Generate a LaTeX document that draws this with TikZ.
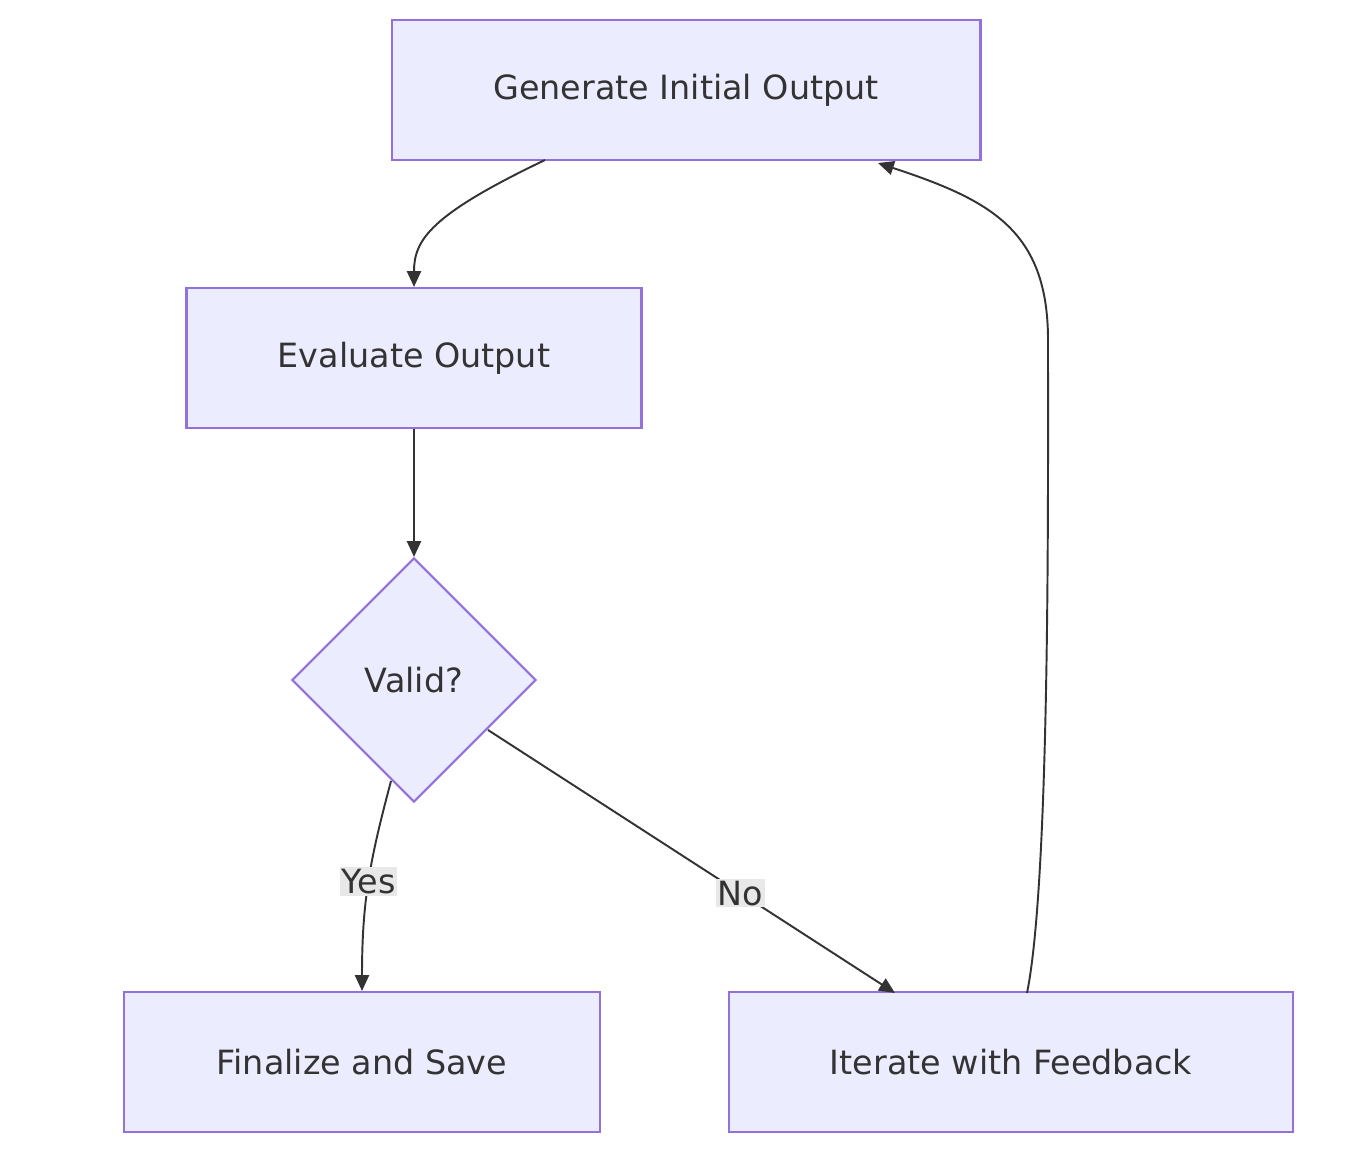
\documentclass[tikz,border=0pt]{standalone}
\usepackage{fontspec}
\setmainfont{DejaVu Sans}
\usetikzlibrary{shapes.geometric,arrows.meta}
\definecolor{boxfill}{HTML}{ECECFF}
\definecolor{boxline}{HTML}{9370DB}
\definecolor{ink}{HTML}{333333}
\definecolor{lblbg}{HTML}{E8E8E8}
\tikzstyle{stage}=[draw=boxline, fill=boxfill, line width=1.2pt, minimum height=2.8cm,
    text=ink, font=\fontsize{19}{22}\selectfont]
\tikzstyle{check}=[diamond, draw=boxline, fill=boxfill, line width=1.2pt, minimum width=4.88cm,
    minimum height=4.88cm, inner sep=0pt, text=ink, font=\fontsize{19}{22}\selectfont]
\tikzstyle{lbl}=[fill=lblbg, text=ink, inner sep=1pt, font=\fontsize{19}{22}\selectfont]
\begin{document}
\begin{tikzpicture}[x=0.02cm, y=-0.02cm, line width=1.1pt, draw=ink, >={Triangle[length=9pt,width=8pt]}]
  \useasboundingbox[fill=white] (0,0) rectangle (1358,1155);
  \node[stage, minimum width=11.78cm] at (686,90) (gen) {Generate Initial Output};
  \node[stage, minimum width=9.1cm] at (414,358) (eval) {Evaluate Output};
  \node[check] at (414,680) (valid) {Valid?};
  \node[stage, minimum width=9.52cm] at (362,1062) (fin) {Finalize and Save};
  \node[stage, minimum width=11.28cm] at (1011,1062) (iter) {Iterate with Feedback};

  \draw[->, ink] (545,160) .. controls (430,215) and (414,240) .. (eval.north);
  \draw[->, ink] (eval) -- (valid);
  \draw[->, ink] (391,781) .. controls (370,860) and (362,900) .. (fin.north) node[lbl, pos=0.5] {Yes};
  \draw[->, ink] (488,730) -- (895,993) node[lbl, pos=0.62] {No};
  \draw[->, ink] (1027,993) .. controls (1050,880) and (1048,500) .. (1048,340)
     .. controls (1048,230) and (990,200) .. (878,163);
\end{tikzpicture}
\end{document}
